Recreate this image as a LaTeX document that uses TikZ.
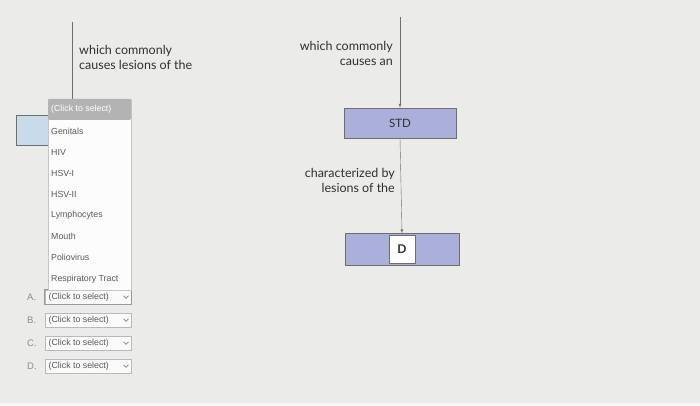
\documentclass[tikz,border=0pt]{standalone}
\usepackage{fontspec}
\setmainfont{Lato}
\newfontfamily\uifont{Liberation Sans}
\usetikzlibrary{arrows,positioning}

\definecolor{bggray}{HTML}{EBEBEA}
\definecolor{stdblue}{HTML}{AAB0D9}
\definecolor{organblue}{HTML}{C9DAEA}
\definecolor{linegray}{HTML}{6E6E6E}
\definecolor{textgray}{HTML}{303030}
\definecolor{menugray}{HTML}{B3B3B3}

\tikzset{
  conceptbox/.style={draw=linegray, fill=stdblue, minimum width=112pt,
    minimum height=30pt, inner sep=0pt, text=textgray,
    font=\fontsize{11.5}{13}\selectfont},
  linklabel/.style={text=textgray, inner sep=0pt,
    font=\fontsize{12.5}{15}\selectfont},
  menuitem/.style={anchor=west, inner sep=0pt, text=black!65,
    font=\uifont\fontsize{8.8}{10}\selectfont},
  selectbox/.style={draw=gray!55, fill=white!96!gray, minimum width=86pt,
    minimum height=14pt, inner sep=0pt},
  letterlabel/.style={anchor=west, inner sep=0pt, text=black!45,
    font=\uifont\fontsize{9.5}{10}\selectfont}
}

\begin{document}
\begin{tikzpicture}[x=1pt,y=-1pt]

\useasboundingbox (0,0) rectangle (700,406);
\fill [bggray] (0,0) rectangle (700,406);
\fill [white!94!gray] (0,403) rectangle (700,406);

\coordinate (ltop) at (72,22);
\coordinate (rtop) at (400,17);

% concept boxes
\node [conceptbox, fill=organblue] (organ) at (72,130) {};
\node [conceptbox] (std) at (400,123) {STD};
\node [conceptbox, minimum width=114pt, minimum height=32pt] (dbox) at (402,249.5) {};
\node [draw=linegray, fill=white, minimum width=26pt, minimum height=28pt,
       inner sep=0pt, text=textgray, font=\bfseries\fontsize{12}{13}\selectfont]
       (dslot) at (dbox.center) {D};

\draw [linegray, -latex] (ltop) -- (organ.north);
\draw [linegray, -latex] (rtop) -- (std.north);
\draw [linegray, -latex] (std.south) -- (dbox.north);

\node [linklabel, anchor=west, align=left] (lbl1) at (79,57.5)
      {which commonly\\causes lesions of the};
\node [linklabel, anchor=east, align=right] (lbl2) at (393,53.5)
      {which commonly\\causes an};
\node [linklabel, anchor=east, align=right] (lbl3) at (395,180.5)
      {characterized by\\lesions of the};

% answer selects
\foreach \ch/\y in {A/297,B/320,C/343,D/366} {
    \node [letterlabel] (let\ch) at (27,\y) {\ch.};
    \node [selectbox] (sel\ch) at (88,\y) {};
    \node [menuitem] (txt\ch) at (48.5,\y) {(Click to select)};
    \draw [gray!85, line width=0.9pt] (123.5,\y-1.2) -- (126,\y+1.3) -- (128.5,\y-1.2);
}
\draw [gray!80, line width=1pt] (selA.south west) rectangle (selA.north east);

% open drop-down menu
\node [draw=gray!45, fill=white!98!gray, minimum width=83pt, minimum height=191pt,
       anchor=north west, inner sep=0pt] (menu) at (48,99) {};
\fill [menugray, rounded corners=1.5pt] (48,99) rectangle (131,120);
\node [menuitem, text=white] (menuhead) at (51,109.5) {(Click to select)};

\foreach \item [count=\i] in {Genitals,HIV,HSV-I,HSV-II,Lymphocytes,Mouth,Poliovirus,Respiratory Tract}
    \node [menuitem] (item\i) at (51,{131+21.14*(\i-1)}) {\item};

\end{tikzpicture}
\end{document}
